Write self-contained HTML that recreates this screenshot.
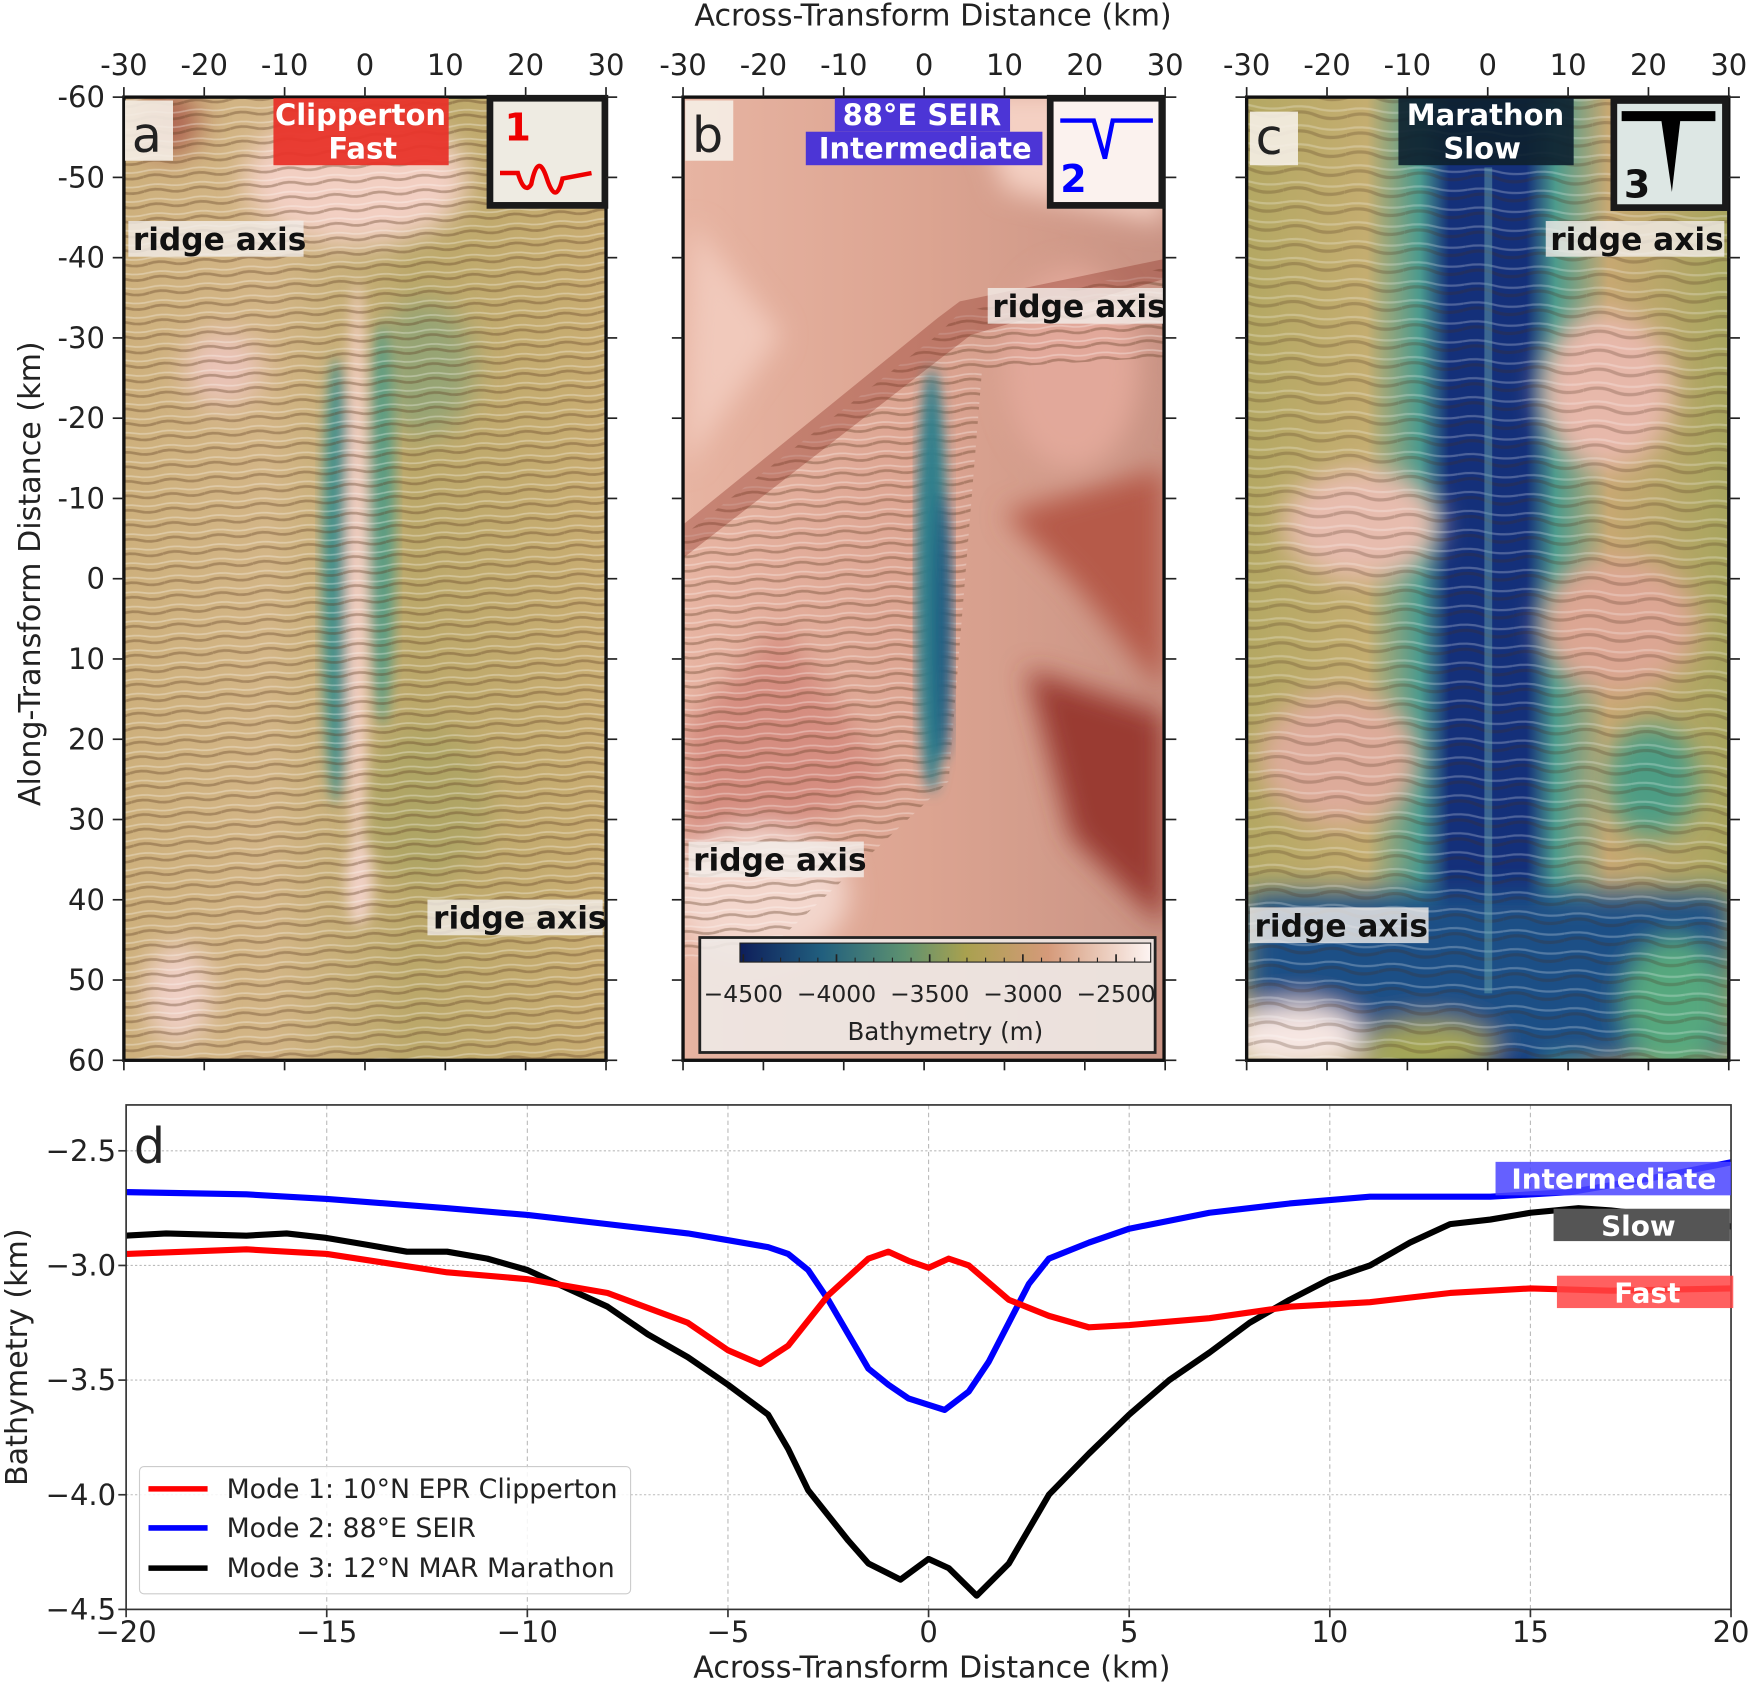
<!DOCTYPE html>
<html><head><meta charset="utf-8">
<style>
html,body{margin:0;padding:0;background:#fff;}
svg{display:block;font-family:"DejaVu Sans","Liberation Sans",sans-serif;}
.tk{font-size:26px;fill:#222;}
.lg{font-size:24px;fill:#222;}
.lb{font-size:27px;fill:#222;}
.ra{font-size:28px;font-weight:bold;fill:#111;}
</style></head><body>
<svg id="fig" width="1750" height="1687" viewBox="0 0 1568 1511.5" xmlns="http://www.w3.org/2000/svg">
<defs>
  <pattern id="stripes" width="40" height="13" patternUnits="userSpaceOnUse" patternTransform="rotate(-3)">
    <path d="M0 9 Q10 6 20 9 T40 9" stroke="#5a3a20" stroke-opacity="0.35" stroke-width="2.5" fill="none"/>
    <path d="M0 4 Q10 2 20 4 T40 4" stroke="#fff" stroke-opacity="0.3" stroke-width="1.5" fill="none"/>
  </pattern>
  <pattern id="stripes2" width="55" height="17" patternUnits="userSpaceOnUse" patternTransform="rotate(2)">
    <path d="M0 11 Q14 6 27 11 T55 11" stroke="#4a2a18" stroke-opacity="0.3" stroke-width="3" fill="none"/>
    <path d="M0 5 Q14 2 27 5 T55 5" stroke="#fff" stroke-opacity="0.3" stroke-width="2" fill="none"/>
  </pattern>
  <linearGradient id="gA" x1="0" x2="1" y1="0" y2="0">
    <stop offset="0" stop-color="#cdb07c"/><stop offset="0.3" stop-color="#d3b586"/>
    <stop offset="0.6" stop-color="#bba86a"/><stop offset="1" stop-color="#c9ad72"/>
  </linearGradient>
  <linearGradient id="gB" x1="0" x2="1" y1="0" y2="0">
    <stop offset="0" stop-color="#e7b4a2"/><stop offset="0.5" stop-color="#dca491"/>
    <stop offset="1" stop-color="#c99384"/>
  </linearGradient>
  <linearGradient id="gC" x1="0" x2="1" y1="0" y2="0">
    <stop offset="0" stop-color="#b4a863"/><stop offset="0.25" stop-color="#c4ad70"/>
    <stop offset="0.36" stop-color="#4a9a8e"/><stop offset="0.42" stop-color="#14307a"/>
    <stop offset="0.58" stop-color="#14307a"/><stop offset="0.64" stop-color="#4c9b8c"/>
    <stop offset="0.75" stop-color="#c7a872"/><stop offset="1" stop-color="#a8a55e"/>
  </linearGradient>
  <linearGradient id="cbar" x1="0" x2="1">
    <stop offset="0" stop-color="#0e1e5a"/><stop offset="0.2" stop-color="#215f7e"/>
    <stop offset="0.4" stop-color="#5d9170"/><stop offset="0.55" stop-color="#a9a14f"/>
    <stop offset="0.75" stop-color="#d59a7a"/><stop offset="1" stop-color="#fdf4f2"/>
  </linearGradient>
  <clipPath id="cA"><rect x="111" y="87" width="432" height="863"/></clipPath>
  <clipPath id="cB"><rect x="612" y="87" width="431" height="863"/></clipPath>
  <clipPath id="cC"><rect x="1117" y="87" width="432" height="863"/></clipPath>
  <clipPath id="cD"><rect x="113" y="990" width="1438" height="452"/></clipPath>
  <filter id="blur"><feGaussianBlur stdDeviation="12"/></filter>
  <filter id="blur2"><feGaussianBlur stdDeviation="6"/></filter>
</defs>

<text class="lb" x="836" y="23" text-anchor="middle">Across-Transform Distance (km)</text>
<text class="lb" transform="translate(36,514) rotate(-90)" text-anchor="middle">Along-Transform Distance (km)</text>

<!-- Panel a -->
<g clip-path="url(#cA)">
  <rect x="111" y="87" width="432" height="863" fill="url(#gA)"/>
  <g filter="url(#blur)">
    <ellipse cx="320" cy="160" rx="100" ry="60" fill="#f2cfc2"/>
    <ellipse cx="200" cy="330" rx="35" ry="35" fill="#e9c3b6"/>
    <ellipse cx="160" cy="890" rx="30" ry="45" fill="#efcfc4"/>
    <ellipse cx="150" cy="110" rx="30" ry="30" fill="#b06a55"/>
    <ellipse cx="380" cy="330" rx="45" ry="60" fill="#7fa27a" opacity="0.6"/>
    <ellipse cx="380" cy="720" rx="60" ry="70" fill="#a9a462" opacity="0.7"/>
  </g>
  <g filter="url(#blur2)">
    <ellipse cx="302" cy="520" rx="13" ry="200" fill="#3f8f8a"/>
    <ellipse cx="342" cy="470" rx="12" ry="180" fill="#5b9c82"/>
    <ellipse cx="320" cy="520" rx="10" ry="270" fill="#f2cdbf"/>
    <ellipse cx="322" cy="790" rx="12" ry="40" fill="#f0d0c4"/>
  </g>
  <rect x="111" y="87" width="432" height="863" fill="url(#stripes)"/>
</g>
<rect x="111" y="87" width="432" height="863" fill="none" stroke="#111" stroke-width="3"/>
<rect x="112" y="90" width="43" height="54" fill="#f5eee6" opacity="0.9"/>
<text x="118" y="136" font-size="44" fill="#222">a</text>
<rect x="245" y="88" width="157" height="60" fill="#e8342a" opacity="0.95"/>
<text x="323" y="112" font-size="26" font-weight="bold" fill="#fff" text-anchor="middle">Clipperton</text>
<text x="325" y="142" font-size="26" font-weight="bold" fill="#fff" text-anchor="middle">Fast</text>
<rect x="439" y="88" width="103" height="96" fill="#eeebe2" stroke="#1a1a1a" stroke-width="6"/>
<text x="452" y="126" font-size="34" font-weight="bold" fill="#e00">1</text>
<path d="M448 155 L464 155 Q470 175 476 165 Q482 135 490 160 Q498 185 504 160 L530 155" stroke="#e00" stroke-width="4" fill="none"/>
<rect x="115" y="198" width="157" height="32" fill="#f2eeea" opacity="0.8"/>
<text class="ra" x="119" y="224">ridge axis</text>
<rect x="383" y="806" width="157" height="32" fill="#f2eeea" opacity="0.8"/>
<text class="ra" x="388" y="832">ridge axis</text>

<!-- Panel b -->
<g clip-path="url(#cB)">
  <rect x="612" y="87" width="431" height="863" fill="url(#gB)"/>
  <g filter="url(#blur)">
    <polygon points="612,420 700,300 620,200" fill="#f1c9bb"/>
    <polygon points="870,80 1043,80 1043,200 900,170" fill="#f4d0c3"/>
    <polygon points="900,460 1043,420 1043,620 960,520" fill="#b65a4a"/>
    <polygon points="920,600 1043,640 1043,830 960,750" fill="#9a3a30"/>
    <polygon points="612,650 700,560 800,700 612,800" fill="#d58d80"/>
    <ellipse cx="960" cy="330" rx="60" ry="90" fill="#e2a89a"/>
    <ellipse cx="680" cy="800" rx="80" ry="60" fill="#f3d6cc"/>
  </g>
  <polygon points="612,480 840,300 860,280 1043,240 1043,320 880,330 850,700 700,840 612,860" fill="url(#stripes)"/>
  <polygon points="612,470 840,285 860,270 1043,232 1043,250 870,300 612,500" fill="#8a2c20" opacity="0.35"/>
  <g filter="url(#blur2)">
    <ellipse cx="835" cy="520" rx="14" ry="190" fill="#2f7f8c"/>
    <ellipse cx="845" cy="560" rx="8" ry="120" fill="#1e5a82"/>
  </g>
</g>
<rect x="612" y="87" width="431" height="863" fill="none" stroke="#111" stroke-width="3"/>
<rect x="614" y="90" width="43" height="54" fill="#f5eee6" opacity="0.9"/>
<text x="620" y="136" font-size="44" fill="#222">b</text>
<rect x="748" y="88" width="157" height="30" fill="#4c35d6"/>
<rect x="722" y="118" width="212" height="30" fill="#4c35d6"/>
<text x="826" y="112" font-size="26" font-weight="bold" fill="#fff" text-anchor="middle">88°E SEIR</text>
<text x="829" y="142" font-size="26" font-weight="bold" fill="#fff" text-anchor="middle">Intermediate</text>
<rect x="941" y="88" width="100" height="96" fill="#fbf2ee" stroke="#1a1a1a" stroke-width="6"/>
<path d="M950 108 L980 108 L990 142 L997 108 L1033 108" stroke="#00f" stroke-width="4" fill="none"/>
<text x="950" y="172" font-size="34" font-weight="bold" fill="#00f">2</text>
<rect x="885" y="258" width="157" height="32" fill="#f2eeea" opacity="0.8"/>
<text class="ra" x="889" y="284">ridge axis</text>
<rect x="617" y="754" width="157" height="32" fill="#f2eeea" opacity="0.8"/>
<text class="ra" x="621" y="780">ridge axis</text>
<g>
  <rect x="627" y="840" width="408" height="103" fill="#eee9e6" fill-opacity="0.9" stroke="#222" stroke-width="2.5"/>
  <rect x="663" y="845" width="368" height="17" fill="url(#cbar)" stroke="#222" stroke-width="1"/>
  <g id="cbticks"></g>
  <text x="847" y="932" font-size="22" fill="#222" text-anchor="middle">Bathymetry (m)</text>
</g>

<!-- Panel c -->
<g clip-path="url(#cC)">
  <rect x="1117" y="87" width="432" height="863" fill="url(#gC)"/>
  <g filter="url(#blur)">
    <ellipse cx="1440" cy="350" rx="60" ry="70" fill="#e7b8aa"/>
    <ellipse cx="1220" cy="470" rx="70" ry="50" fill="#e7bcae"/>
    <ellipse cx="1450" cy="560" rx="70" ry="60" fill="#dca693"/>
    <ellipse cx="1200" cy="680" rx="70" ry="60" fill="#ddab9a"/>
    <ellipse cx="1480" cy="700" rx="40" ry="50" fill="#4e9d84"/>
    <rect x="1117" y="800" width="432" height="150" fill="#1c4f86"/>
    <ellipse cx="1160" cy="930" rx="60" ry="30" fill="#f6e6e2"/>
    <ellipse cx="1280" cy="940" rx="60" ry="25" fill="#a6a654"/>
    <ellipse cx="1500" cy="900" rx="45" ry="60" fill="#56a87e"/>
  </g>
  <rect x="1117" y="87" width="432" height="863" fill="url(#stripes2)" opacity="0.8"/>
  <rect x="1330" y="150" width="7" height="740" fill="#6aa8b0" opacity="0.45"/>
</g>
<rect x="1117" y="87" width="432" height="863" fill="none" stroke="#111" stroke-width="3"/>
<rect x="1120" y="100" width="43" height="48" fill="#f5eee6" opacity="0.9"/>
<text x="1125" y="138" font-size="44" fill="#222">c</text>
<rect x="1253" y="88" width="157" height="60" fill="#0e2230" opacity="0.92"/>
<text x="1331" y="112" font-size="26" font-weight="bold" fill="#fff" text-anchor="middle">Marathon</text>
<text x="1328" y="142" font-size="26" font-weight="bold" fill="#fff" text-anchor="middle">Slow</text>
<rect x="1446" y="90" width="100" height="96" fill="#dde7e4" stroke="#1a1a1a" stroke-width="6"/>
<path d="M1453 104 L1537 104" stroke="#000" stroke-width="9"/>
<path d="M1488 104 L1498 172 L1506 104 Z" fill="#000"/>
<text x="1455" y="177" font-size="34" font-weight="bold" fill="#111">3</text>
<rect x="1385" y="198" width="160" height="32" fill="#f2eeea" opacity="0.8"/>
<text class="ra" x="1389" y="224">ridge axis</text>
<rect x="1120" y="813" width="160" height="32" fill="#f2eeea" opacity="0.8"/>
<text class="ra" x="1124" y="839">ridge axis</text>

<g id="mapAxes"></g>

<!-- Panel d -->
<g id="pd">
  <rect x="113" y="990" width="1438" height="452" fill="#fff"/>
  <g id="grid"></g>
  <g id="series" clip-path="url(#cD)"></g>
  <rect x="113" y="990" width="1438" height="452" fill="none" stroke="#333" stroke-width="1.5"/>
  <text x="120" y="1042" font-size="44" fill="#222">d</text>
  <rect x="1340" y="1041" width="211" height="30" fill="#4a44ff" opacity="0.85"/>
  <text x="1446" y="1065" font-size="25" font-weight="bold" fill="#fff" text-anchor="middle">Intermediate</text>
  <rect x="1392" y="1083" width="158" height="29" fill="#555"/>
  <text x="1468" y="1107" font-size="25" font-weight="bold" fill="#fff" text-anchor="middle">Slow</text>
  <rect x="1395" y="1143" width="158" height="29" fill="#f44" opacity="0.85"/>
  <text x="1476" y="1167" font-size="25" font-weight="bold" fill="#fff" text-anchor="middle">Fast</text>
  <g>
    <rect x="125" y="1314" width="440" height="114" rx="4" fill="#fff" fill-opacity="0.85" stroke="#ccc"/>
    <line x1="133" y1="1334" x2="186" y2="1334" stroke="#f00" stroke-width="5"/>
    <text x="203" y="1342" class="lg">Mode 1: 10°N EPR Clipperton</text>
    <line x1="133" y1="1369" x2="186" y2="1369" stroke="#00f" stroke-width="5"/>
    <text x="203" y="1377" class="lg">Mode 2: 88°E SEIR</text>
    <line x1="133" y1="1405" x2="186" y2="1405" stroke="#000" stroke-width="5"/>
    <text x="203" y="1413" class="lg">Mode 3: 12°N MAR Marathon</text>
  </g>
  <text class="lb" x="835" y="1503" text-anchor="middle">Across-Transform Distance (km)</text>
  <text class="lb" transform="translate(24,1216) rotate(-90)" text-anchor="middle">Bathymetry (km)</text>
</g>

<script>
// Panel d data (km)
const redX = [-20,-17,-15,-12,-10,-8,-6,-5,-4.2,-3.5,-2.5,-1.5,-1,-0.5,0,0.5,1,2,3,4,5,7,9,11,13,15,17,20];
const redY = [-2.95,-2.93,-2.95,-3.03,-3.06,-3.12,-3.25,-3.37,-3.43,-3.35,-3.13,-2.97,-2.94,-2.98,-3.01,-2.97,-3.0,-3.15,-3.22,-3.27,-3.26,-3.23,-3.18,-3.16,-3.12,-3.10,-3.11,-3.10];
const blueX = [-20,-17,-15,-12,-10,-8,-6,-5,-4,-3.5,-3,-2.5,-2,-1.5,-1,-0.5,0.4,1,1.5,2,2.5,3,4,5,7,9,11,14,16,18,20];
const blueY = [-2.68,-2.69,-2.71,-2.75,-2.78,-2.82,-2.86,-2.89,-2.92,-2.95,-3.02,-3.15,-3.3,-3.45,-3.52,-3.58,-3.63,-3.55,-3.42,-3.25,-3.08,-2.97,-2.9,-2.84,-2.77,-2.73,-2.70,-2.70,-2.68,-2.62,-2.55];
const blackX = [-20,-19,-17,-16,-15,-14,-13,-12,-11,-10,-9,-8,-7,-6,-5,-4,-3.5,-3,-2,-1.5,-0.7,0,0.5,1.2,2,3,4,5,6,7,8,9,10,11,12,13,14,15,16.2,17,18,19,20];
const blackY = [-2.87,-2.86,-2.87,-2.86,-2.88,-2.91,-2.94,-2.94,-2.97,-3.02,-3.1,-3.18,-3.3,-3.4,-3.52,-3.65,-3.8,-3.98,-4.2,-4.3,-4.37,-4.28,-4.32,-4.44,-4.3,-4.0,-3.82,-3.65,-3.5,-3.38,-3.25,-3.15,-3.06,-3.0,-2.9,-2.82,-2.8,-2.77,-2.75,-2.76,-2.78,-2.8,-2.83];
const xTicks = [-20,-15,-10,-5,0,5,10,15,20];
const yTicks = [-2.5,-3.0,-3.5,-4.0,-4.5];
const mapXTicks = [-30,-20,-10,0,10,20,30];
const mapYTicks = [-60,-50,-40,-30,-20,-10,0,10,20,30,40,50,60];
const cbTicks = [-4500,-4000,-3500,-3000,-2500];

const NS = 'http://www.w3.org/2000/svg';
function xs(v){ return 113 + (v + 20) / 40 * 1438; }
function ys(v){ return 990 + (-2.3 - v) / 2.2 * 452; }
function mk(tag, attrs, parent){ const e = document.createElementNS(NS, tag); for (const k in attrs) e.setAttribute(k, attrs[k]); parent.appendChild(e); return e; }

const grid = document.getElementById('grid');
xTicks.forEach(t => {
  const X = xs(t);
  if (t > -20 && t < 20) {
    const g = mk('line', {x1:X, x2:X, y1:990, y2:1442, stroke:'#bbb', 'stroke-dasharray':'4,3', 'stroke-width':1}, grid);
    
    
  }
  mk('line', {x1:X, x2:X, y1:1442, y2:1449, stroke:'#333', 'stroke-width':1.5}, grid);
  const l = mk('text', {x:X, y:1471, 'text-anchor':'middle', class:'tk'}, grid);
  l.textContent = t < 0 ? '\u2212' + Math.abs(t) : String(t);
  
  
});
yTicks.forEach(t => {
  const Y = ys(t);
  if (t > -4.5) {
    const g = mk('line', {x1:113, x2:1551, y1:Y, y2:Y, stroke:'#bbb', 'stroke-dasharray':'2,2', 'stroke-width':1}, grid);
    
    
  }
  mk('line', {x1:106, x2:113, y1:Y, y2:Y, stroke:'#333', 'stroke-width':1.5}, grid);
  const l = mk('text', {x:104, y:Y + 9, 'text-anchor':'end', class:'tk'}, grid);
  l.textContent = '\u2212' + Math.abs(t).toFixed(1);
  
  
});

const series = document.getElementById('series');
function drawLine(xArr, yArr, color, name){
  const d = xArr.map((x, i) => (i ? 'L' : 'M') + xs(x).toFixed(1) + ' ' + ys(yArr[i]).toFixed(1)).join(' ');
  const p = mk('path', {d:d, stroke:color, 'stroke-width':5.5, fill:'none', 'stroke-linejoin':'round', 'stroke-linecap':'round'}, series);
  
  
}
drawLine(blueX, blueY, '#00f', 'line-mode2-seir');
drawLine(blackX, blackY, '#000', 'line-mode3-marathon');
drawLine(redX, redY, '#f00', 'line-mode1-clipperton');

const ma = document.getElementById('mapAxes');
const panels = [111, 612, 1117];
panels.forEach(px => {
  mapXTicks.forEach(t => {
    const X = px + (t + 30) / 60 * 432;
    mk('line', {x1:X, x2:X, y1:78, y2:87, stroke:'#222', 'stroke-width':1.5}, ma);
    mk('line', {x1:X, x2:X, y1:950, y2:959, stroke:'#222', 'stroke-width':1.5}, ma);
    const l = mk('text', {x:X, y:67, 'text-anchor':'middle', class:'tk'}, ma);
    l.textContent = String(t);
    
    
  });
  mapYTicks.forEach(t => {
    const Y = 87 + (t + 60) / 120 * 863;
    mk('line', {x1:px - 10, x2:px, y1:Y, y2:Y, stroke:'#222', 'stroke-width':1.5}, ma);
    mk('line', {x1:px + 432, x2:px + 442, y1:Y, y2:Y, stroke:'#222', 'stroke-width':1.5}, ma);
  });
});
mapYTicks.forEach(t => {
  const Y = 87 + (t + 60) / 120 * 863;
  const l = mk('text', {x:94, y:Y + 9, 'text-anchor':'end', class:'tk'}, ma);
  l.textContent = String(t);
  
  
});

const cb = document.getElementById('cbticks');
cbTicks.forEach(t => {
  const X = 666 + (t + 4500) / 2000 * 334;
  mk('line', {x1:X, x2:X, y1:855, y2:862, stroke:'#222', 'stroke-width':1.5}, cb);
  const l = mk('text', {x:X, y:898, 'text-anchor':'middle', 'font-size':21, fill:'#222'}, cb);
  l.textContent = '\u2212' + Math.abs(t);
  
  
});
for (let v = -4600; v <= -2300; v += 100) {
  const X = 666 + (v + 4500) / 2000 * 334;
  if (X >= 663 && X <= 1031) mk('line', {x1:X, x2:X, y1:858, y2:862, stroke:'#222', 'stroke-width':1}, cb);
}
</script>
</svg>
</body></html>
